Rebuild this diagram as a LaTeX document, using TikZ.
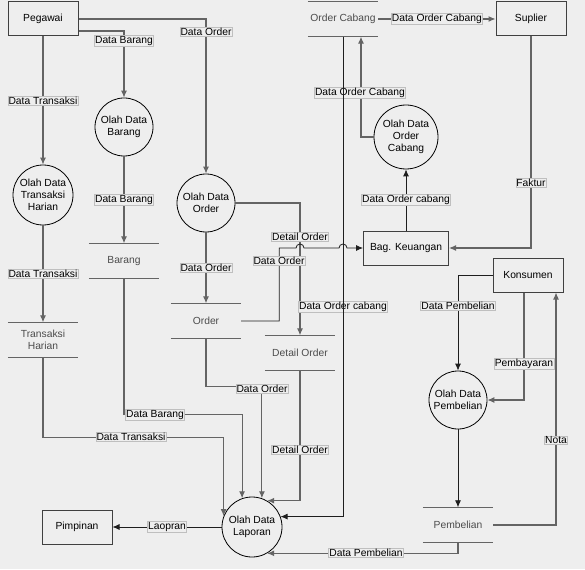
\documentclass[tikz,border=0pt]{standalone}
\usepackage{fontspec}
\setmainfont{Liberation Sans}
\usetikzlibrary{arrows.meta}
\definecolor{bg}{RGB}{238,238,238}
\definecolor{lgray}{RGB}{100,100,100}
\definecolor{dgray}{RGB}{30,30,30}

\begin{document}
\begin{tikzpicture}[x=1pt,y=-1pt,>={Latex[length=7pt,width=6pt]},
  font=\fontsize{10.3}{11.8}\selectfont,
  entity/.style={draw=black!75,line width=1pt,minimum width=70pt,minimum height=34pt,inner sep=1pt},
  proc/.style={circle,draw=black,line width=0.8pt,minimum size=58pt,inner sep=0pt,align=center},
  store/.style={minimum width=70pt,minimum height=35pt,inner sep=0pt,align=center,text=black!70},
  flow/.style={->,draw=lgray,line width=1.1pt},
  flowd/.style={->,draw=dgray,line width=0.8pt},
  lbl/.style={fill=bg,draw=black!25,line width=0.4pt,inner sep=0.7pt}]

\fill[bg] (0,0) rectangle (585,569);

% entitas
\node[entity] (peg) at (43,19) {Pegawai};
\node[entity] (sup) at (531,19) {Suplier};
\node[entity] (kon) at (528,275) {Konsumen};
\node[entity,minimum width=85pt] (bk) at (406,248) {Bag. Keuangan};
\node[entity] (pim) at (77,527) {Pimpinan};

% proses
\node[proc,minimum size=60pt] (odt) at (43,195) {Olah Data\\Transaksi\\Harian};
\node[proc] (odb) at (124,127) {Olah Data\\Barang};
\node[proc] (odo) at (206,203) {Olah Data\\Order};
\node[proc,minimum size=64pt] (odc) at (406,137) {Olah Data\\Order\\Cabang};
\node[proc] (odp) at (458,400) {Olah Data\\Pembelian};
\node[proc,minimum size=60pt] (lap) at (252,527) {Olah Data\\Laporan};

% data store
\node[store] (oc) at (343,19) {Order Cabang};
\node[store] (brg) at (124,261) {Barang};
\node[store] (trh) at (43,340) {Transaksi\\Harian};
\node[store] (ord) at (206,321) {Order};
\node[store] (det) at (300,353) {Detail Order};
\node[store] (pbl) at (458,525) {Pembelian};
\foreach \s in {oc,brg,trh,ord,det,pbl}
  \draw[lgray,line width=1.2pt] (\s.north west) -- (\s.north east) (\s.south west) -- (\s.south east);

% aliran data
\draw[flow] (peg) -- node[lbl] (l1) {Data Transaksi} (odt);
\draw[flow] ([yshift=-12pt]peg.east) -| (odb);
\draw[flow] (peg.east) -| (odo);
\draw[flow] (odb) -- node[lbl] (l4) {Data Barang} (brg);
\draw[flow] (odt) -- node[lbl] (l5) {Data Transaksi} (trh);
\draw[flow] (odo) -- node[lbl] (l6) {Data Order} (ord);
\draw[flow] (odo) -| (det);
\draw[flowd] (ord.east) -- ++(38,0) |- (296,248) arc[start angle=180,end angle=0,radius=4pt]
  -- (339,248) arc[start angle=180,end angle=0,radius=4pt] -- (bk.west);
\draw[flow] (ord.south) -- ++(0,48) -| (lap.71);
\draw[flow] (brg.south) -- ++(0,136) -| (lap.109);
\draw[flow] (trh.south) -- ++(0,80) -| (lap.159);
\draw[flowd] (lap) -- node[lbl] (l12) {Laopran} (pim);
\draw[flow] (det) |- (lap.60);
\draw[flow] (odc.west) -| ([xshift=18pt]oc.south);
\draw[flowd] (bk) -- node[lbl] (l16) {Data Order cabang} (odc);
\draw[flow] (oc) -- node[lbl] (l17) {Data Order Cabang} (sup);
\draw[flow] (sup) |- (bk);
\draw[flowd] (kon.west) -| (odp);
\draw[flow] ([xshift=-4pt]kon.south) |- (odp);
\draw[flow] (pbl) -| ([xshift=28pt]kon.south);
\draw[flowd] (odp) -- (pbl);
\draw[flow] (pbl.south) |- (lap.-60);

\node[lbl] (l2) at (124,41) {Data Barang};
\node[lbl] (l3) at (206,32) {Data Order};
\node[lbl] (l7) at (300,237) {Detail Order};
\node[lbl] (l8) at (279,261) {Data Order};
\node[lbl] (l9) at (262,389) {Data Order};
\node[lbl] (l10) at (155,415) {Data Barang};
\node[lbl] (l11) at (131,437) {Data Transaksi};
\node[lbl] (l13) at (300,450) {Detail Order};
\node[lbl] (l15) at (360,93) {Data Order Cabang};
\node[lbl] (l18) at (531,183) {Faktur};
\node[lbl] (l19) at (458,306) {Data Pembelian};
\node[lbl] (l20) at (524,364) {Pembayaran};
\node[lbl] (l21) at (556,440) {Nota};
\node[lbl] (l22) at (366,553) {Data Pembelian};
\node[lbl] (l14) at (343,307) {Data Order cabang};

% garis ini di atas labelnya
\draw[flowd] (oc) |- (lap.20);
\end{tikzpicture}
\end{document}
